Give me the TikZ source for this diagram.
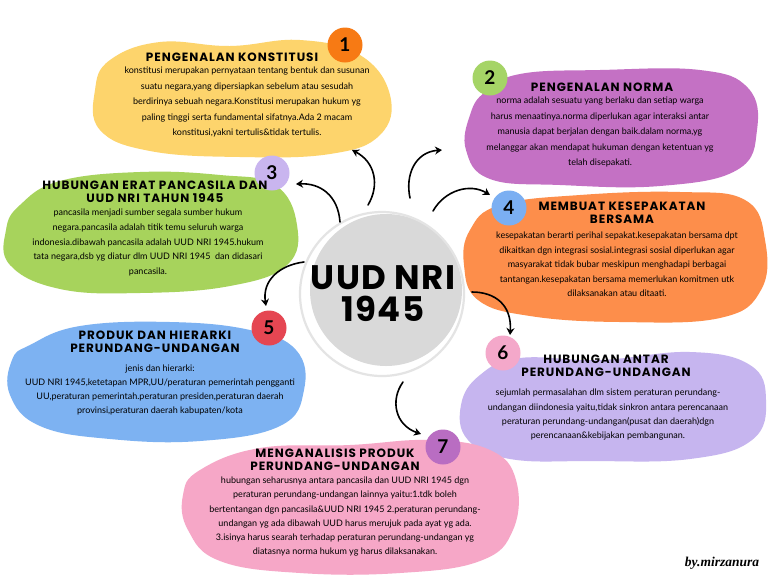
\documentclass[tikz,border=0pt]{standalone}
\usepackage{fontspec}
\usetikzlibrary{arrows.meta}
\setmainfont{Lato}
\newfontfamily\headfont{Poppins}[LetterSpace=8]
\newfontfamily\bigfont{Poppins}[LetterSpace=4]
\newfontfamily\signfont{Liberation Serif}
\definecolor{cYel}{HTML}{FDD46C}
\definecolor{cPur}{HTML}{C471C4}
\definecolor{cGrn}{HTML}{A7D35C}
\definecolor{cOra}{HTML}{FD8E4B}
\definecolor{cBlu}{HTML}{7DB2F2}
\definecolor{cLav}{HTML}{C6B5EF}
\definecolor{cPnk}{HTML}{F6A7C7}
\definecolor{bOra}{HTML}{F77A14}
\definecolor{bGrn}{HTML}{A5D466}
\definecolor{bLav}{HTML}{C9B5EF}
\definecolor{bBlu}{HTML}{7BAFF2}
\definecolor{bRed}{HTML}{E54652}
\definecolor{bPnk}{HTML}{F4A8CA}
\definecolor{bPur}{HTML}{B96DC2}
\definecolor{cGray}{HTML}{D9D9D9}
\definecolor{cRing}{HTML}{E4E4E4}
\tikzset{
  blob/.style={draw=none,fill=#1},
  badge/.style={circle,fill=#1,minimum size=35pt,inner sep=0pt,font=\fontsize{19}{19}\selectfont\bfseries},
  head/.style={align=center,inner sep=0pt,font=\headfont\bfseries\fontsize{12}{13.5}\selectfont},
  body/.style={align=center,inner sep=0pt,font=\fontsize{9}{15.5}\selectfont},
  curl/.style={line width=1.6pt,-{Stealth[length=7pt,width=8pt]},line cap=round}
}
\begin{document}
\begin{tikzpicture}[x=1pt,y=-1pt]
\useasboundingbox (0,0) rectangle (768,576);
\fill[white] (0,0) rectangle (768,576);
% blobs
\fill[blob=cYel] plot[smooth cycle,tension=0.7] coordinates {(110,60) (160,42) (230,46) (300,40) (360,55) (390,95) (380,135) (330,154) (240,157) (150,151) (100,130) (95,90)};
\fill[blob=cPur] plot[smooth cycle,tension=0.7] coordinates {(485,92) (520,74) (600,70) (700,70) (748,88) (757,130) (737,170) (660,186) (560,185) (490,179) (466,150) (470,115)};
\fill[blob=cGrn] plot[smooth cycle,tension=0.7] coordinates {(20,205) (60,181) (140,172) (220,175) (275,185) (297,225) (287,265) (230,286) (140,293) (60,289) (10,265) (6,230)};
\fill[blob=cOra] plot[smooth cycle,tension=0.7] coordinates {(470,230) (500,205) (580,195) (680,192) (745,200) (765,240) (761,290) (720,318) (620,322) (530,316) (478,300) (464,265)};
\fill[blob=cBlu] plot[smooth cycle,tension=0.7] coordinates {(30,345) (80,326) (170,322) (250,330) (296,350) (304,390) (280,426) (200,441) (110,439) (40,426) (10,395) (12,360)};
\fill[blob=cLav] plot[smooth cycle,tension=0.7] coordinates {(480,375) (520,358) (600,360) (690,352) (750,365) (766,400) (752,440) (690,459) (590,461) (510,459) (468,440) (461,405)};
\fill[blob=cPnk] plot[smooth cycle,tension=0.7] coordinates {(200,470) (260,448) (350,445) (430,440) (490,450) (516,480) (513,530) (480,561) (400,573) (300,573) (220,561) (188,530) (183,495)};
% center
\fill[cGray] (386,290) circle (76);
\draw[cRing,line width=2.2pt] (382,294) circle (82);
\node[inner sep=0pt,align=center,font=\bigfont\bfseries\fontsize{34}{34}\selectfont] (center) at (383,294) {UUD NRI\\[-2pt]1945};
% badges
\node[badge=bOra] (b1) at (345,45) {1};
\node[badge=bGrn] (b2) at (490,78) {2};
\node[badge=bLav] (b3) at (272,173) {3};
\node[badge=bBlu] (b4) at (509,208) {4};
\node[badge=bRed] (b5) at (269,328) {5};
\node[badge=bPnk] (b6) at (503,353) {6};
\node[badge=bPur] (b7) at (443,447) {7};
% headings
\node[head] (h1) at (232,57) {PENGENALAN KONSTITUSI};
\node[head] (h2) at (602,87) {PENGENALAN NORMA};
\node[head] (h3) at (155,192) {HUBUNGAN ERAT PANCASILA DAN\\UUD NRI TAHUN 1945};
\node[head] (h4) at (622,213) {MEMBUAT KESEPAKATAN\\BERSAMA};
\node[head] (h5) at (155,342) {PRODUK DAN HIERARKI\\PERUNDANG-UNDANGAN};
\node[head] (h6) at (606,366) {HUBUNGAN ANTAR\\PERUNDANG-UNDANGAN};
\node[head] (h7) at (335,460) {MENGANALISIS PRODUK\\PERUNDANG-UNDANGAN};
% bodies
\node[body,anchor=north] (t1) at (247,67) {konstitusi merupakan pernyataan tentang bentuk dan susunan\\suatu negara,yang dipersiapkan sebelum atau sesudah\\berdirinya sebuah negara.Konstitusi merupakan hukum yg\\paling tinggi serta fundamental sifatnya.Ada 2 macam\\konstitusi,yakni tertulis\&tidak tertulis.};
\node[body,anchor=north] (t2) at (600,97) {norma adalah sesuatu yang berlaku dan setiap warga\\harus menaatinya.norma diperlukan agar interaksi antar\\manusia dapat berjalan dengan baik.dalam norma,yg\\melanggar akan mendapat hukuman dengan ketentuan yg\\telah disepakati.};
\node[body,anchor=north,font=\fontsize{9}{14.7}\selectfont] (t3) at (148,209) {pancasila menjadi sumber segala sumber hukum\\negara.pancasila adalah titik temu seluruh warga\\indonesia.dibawah pancasila adalah UUD NRI 1945.hukum\\tata negara,dsb yg diatur dlm UUD NRI 1945\ \ dan didasari\\pancasila.};
\node[body,anchor=north,font=\fontsize{9}{14.5}\selectfont] (t4) at (617,232) {kesepakatan berarti perihal sepakat.kesepakatan bersama dpt\\dikaitkan dgn integrasi sosial.integrasi sosial diperlukan agar\\masyarakat tidak bubar meskipun menghadapi berbagai\\tantangan.kesepakatan bersama memerlukan komitmen utk\\dilaksanakan atau ditaati.};
\node[body,anchor=north,font=\fontsize{9}{13.8}\selectfont] (t5) at (160,365) {jenis dan hierarki:\\UUD NRI 1945,ketetapan MPR,UU/peraturan pemerintah pengganti\\UU,peraturan pemerintah.peraturan presiden,peraturan daerah\\provinsi,peraturan daerah kabupaten/kota};
\node[body,anchor=north,font=\fontsize{9}{14.3}\selectfont] (t6) at (608,389) {sejumlah permasalahan dlm sistem peraturan perundang-\\undangan diindonesia yaitu,tidak sinkron antara perencanaan\\peraturan perundang-undangan(pusat dan daerah)dgn\\perencanaan\&kebijakan pembangunan.};
\node[body,anchor=north,font=\fontsize{9}{14.1}\selectfont] (t7) at (345,477) {hubungan seharusnya antara pancasila dan UUD NRI 1945 dgn\\peraturan perundang-undangan lainnya yaitu:1.tdk boleh\\bertentangan dgn pancasila\&UUD NRI 1945 2.peraturan perundang-\\undangan yg ada dibawah UUD harus merujuk pada ayat yg ada.\\3.isinya harus searah terhadap peraturan perundang-undangan yg\\diatasnya norma hukum yg harus dilaksanakan.};
% signature
\node[inner sep=0pt,font=\signfont\bfseries\itshape\fontsize{13.5}{13.5}\selectfont] (sig) at (722,563) {by.mirzanura};
% arrows
\coordinate (s1) at (368,205); \coordinate (e1) at (352,150);
\coordinate (s2) at (410,198); \coordinate (e2) at (442,150);
\coordinate (s3) at (340,222); \coordinate (e3) at (296,184);
\coordinate (s4) at (433,211); \coordinate (e4) at (490,195);
\coordinate (s5) at (304,262); \coordinate (e5) at (266,306);
\coordinate (s6) at (472,292); \coordinate (e6) at (510,335);
\coordinate (s7) at (403,382); \coordinate (e7) at (421,434);
\draw[curl] (s1) .. controls (380,185) and (375,162) .. (e1);
\draw[curl] (s2) .. controls (405,175) and (415,152) .. (e2);
\draw[curl] (s3) .. controls (338,195) and (320,183) .. (e3);
\draw[curl] (s4) .. controls (445,190) and (470,183) .. (e4);
\draw[curl] (s5) .. controls (280,265) and (262,280) .. (e5);
\draw[curl] (s6) .. controls (495,292) and (512,305) .. (e6);
\draw[curl] (s7) .. controls (390,400) and (395,425) .. (e7);
\end{tikzpicture}
\end{document}
